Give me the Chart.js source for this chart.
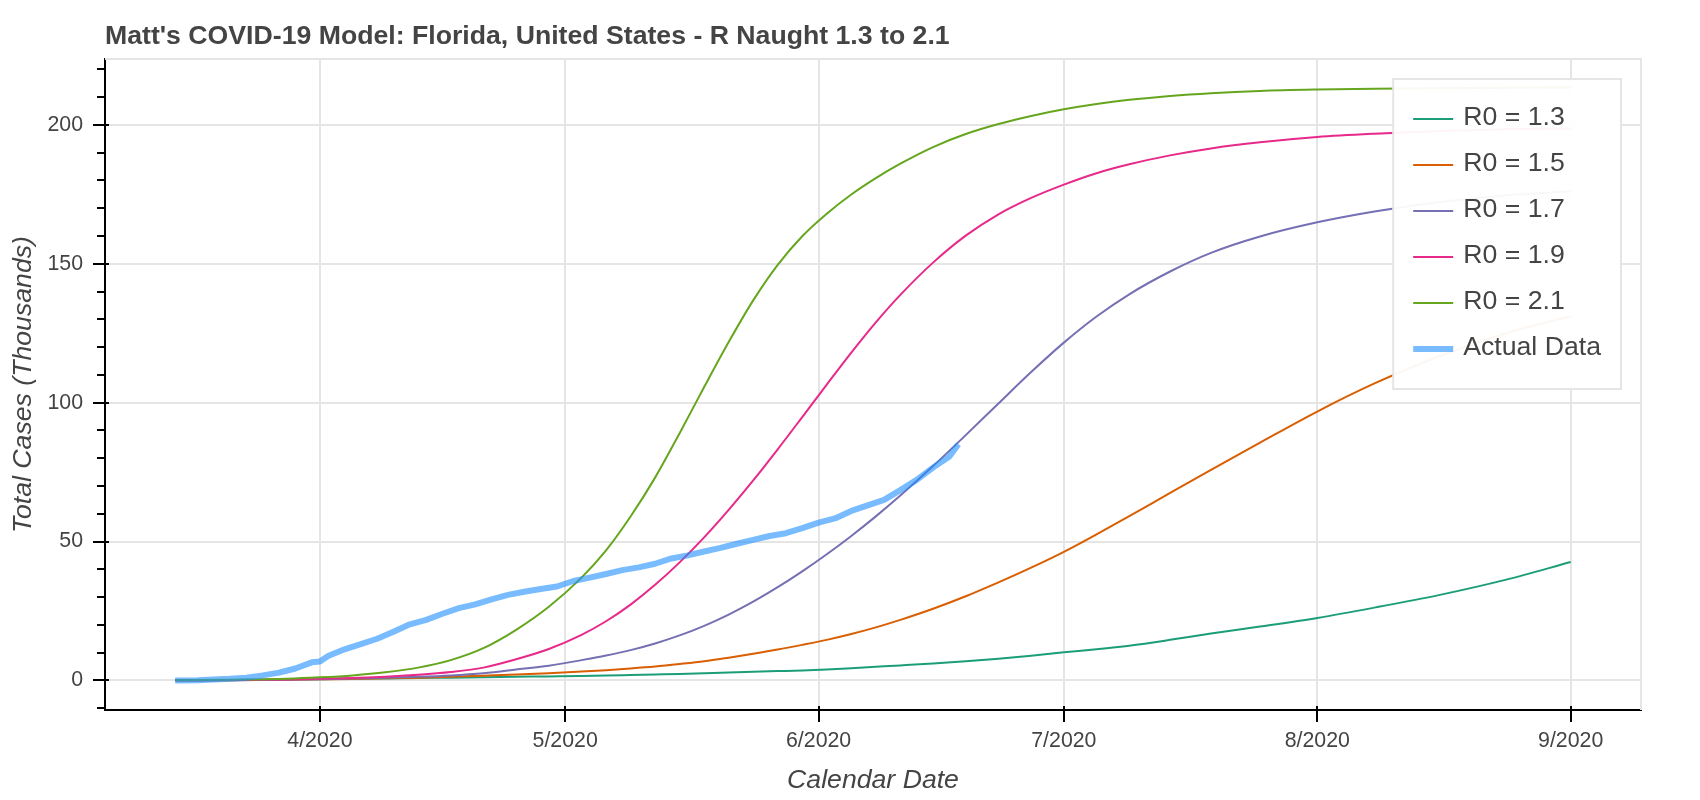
<!DOCTYPE html>
<html>
<head>
<meta charset="utf-8">
<title>Matt's COVID-19 Model: Florida</title>
<script src="https://cdn.jsdelivr.net/npm/chart.js@4.4.1/dist/chart.umd.min.js"></script>
<style>
  body { margin: 0; background: #fff; }
  canvas { display: block; }
</style>
</head>
<body>
<canvas id="covidChart" width="1700" height="800"></canvas>
<script>
// x values are days counted from 1 March 2020, y values are thousands of cases
const modelDays = [13.3, 20, 27, 31, 35, 39, 43, 47, 51, 55,
    59, 63, 66, 69, 72, 75, 78, 81, 84, 87,
    90, 93, 96, 99, 102, 106, 110, 114, 118, 122,
    126, 130, 135, 140, 146, 153, 160, 168, 176, 184];

const r0_13 = [0.05, 0.15, 0.3, 0.45, 0.55, 0.7, 0.85, 1.0, 1.15, 1.3,
    1.45, 1.6, 1.75, 1.95, 2.15, 2.35, 2.6, 2.85, 3.1, 3.35,
    3.6, 3.95, 4.4, 4.9, 5.4, 6.1, 6.9, 7.8, 8.9, 10.1,
    11.2, 12.5, 14.6, 16.9, 19.4, 22.5, 26.2, 30.8, 36.2, 42.6];

const r0_15 = [0.05, 0.1, 0.25, 0.4, 0.55, 0.75, 1.0, 1.3, 1.7, 2.1,
    2.6, 3.2, 3.7, 4.3, 5.0, 5.9, 6.9, 8.2, 9.6, 11.1,
    12.8, 14.6, 16.7, 19.1, 21.8, 25.8, 30.3, 35.3, 40.6, 46.3,
    52.6, 59.1, 67.5, 75.8, 85.6, 96.8, 106.9, 116.8, 124.9, 131.1];

const r0_17 = [0.05, 0.1, 0.3, 0.45, 0.7, 0.95, 1.3, 1.8, 2.6, 3.9,
    5.3, 7.3, 8.95, 10.9, 13.3, 16.2, 19.65, 23.7, 28.35, 33.55,
    39.25, 45.4, 52.0, 59.05, 66.55, 77.15, 88.3, 99.7, 111.0, 121.6,
    131.0, 139.0, 147.2, 153.9, 159.8, 164.9, 168.8, 172.2, 174.6, 176.0];

const r0_19 = [0.05, 0.15, 0.35, 0.6, 0.9, 1.3, 2.0, 3.0, 4.6, 7.6,
    11.3, 16.4, 21.3, 27.3, 34.4, 42.5, 51.5, 61.4, 72.0, 83.2,
    94.8, 106.5, 118.0, 128.9, 138.8, 150.4, 160.1, 167.8, 173.7, 178.5,
    182.6, 185.8, 189.0, 191.5, 193.7, 195.6, 196.8, 197.8, 198.4, 198.7];

const r0_21 = [0.05, 0.25, 0.6, 1.1, 1.8, 2.9, 4.6, 7.3, 11.6, 18.2,
    26.5, 37.0, 46.8, 59.0, 73.0, 89.0, 105.6, 121.8, 136.8, 149.6,
    159.9, 168.0, 174.9, 180.8, 186.0, 192.0, 196.7, 200.3, 203.2, 205.6,
    207.5, 209.0, 210.4, 211.4, 212.2, 212.7, 213.0, 213.2, 213.35, 213.45];

const actualDays = [13.3, 16, 20, 22, 24, 26, 28, 30, 31, 32,
    34, 36, 38, 40, 42, 44, 46, 48, 50, 52,
    54, 56, 58, 60, 62, 64, 66, 68, 70, 72,
    74, 76, 78, 80, 82, 84, 86, 88, 90, 92,
    94, 96, 98, 100, 102, 104, 106, 108, 109.1];

const actualCases = [0, 0.1, 0.6, 1.0, 1.8, 2.8, 4.3, 6.5, 6.8, 8.8,
    11.2, 13.1, 15.0, 17.5, 20.2, 21.8, 24.0, 26.0, 27.4, 29.2,
    30.8, 31.9, 32.9, 33.8, 35.8, 37.0, 38.3, 39.7, 40.7, 42.0,
    43.9, 45.0, 46.4, 47.7, 49.2, 50.6, 52.0, 53.0, 54.8, 56.8,
    58.3, 61.0, 63.0, 65.0, 68.5, 72.2, 76.6, 80.6, 85.0];

const seriesLabels = ['R0 = 1.3', 'R0 = 1.5', 'R0 = 1.7', 'R0 = 1.9', 'R0 = 2.1', 'Actual Data'];

// month starts (1 Apr ... 1 Sep) and their labels
const monthTickDays = [31, 61, 92, 122, 153, 184];
const monthTickLabels = ['4/2020', '5/2020', '6/2020', '7/2020', '8/2020', '9/2020'];
const yTickValues = [0, 50, 100, 150, 200];

const chartTitle = "Matt's COVID-19 Model: Florida, United States - R Naught 1.3 to 2.1";

// styling
const FONT = '"Liberation Sans", Arial, Helvetica, sans-serif';
const TEXT = '#444444';
const modelColors = ['#1b9e77', '#d95f02', '#7570b3', '#e7298a', '#66a61e'];
const actualColor = 'rgba(30, 144, 255, 0.6)';

const modelSeries = [r0_13, r0_15, r0_17, r0_19, r0_21];

const datasets = modelSeries.map((values, i) => ({
    label: seriesLabels[i],
    data: modelDays.map((d, j) => ({ x: d, y: values[j] })),
    borderColor: modelColors[i],
    borderWidth: 2,
    cubicInterpolationMode: 'monotone',
    order: 10 - i
}));

datasets.push({
    label: seriesLabels[5],
    data: actualDays.map((d, j) => ({ x: d, y: actualCases[j] })),
    borderColor: actualColor,
    borderWidth: 6,
    tension: 0,
    borderJoinStyle: 'bevel',
    order: 0
});

// frame outline, minor ticks, title and the boxed legend inside the plot
const bokehLook = {
    id: 'bokehLook',
    beforeDatasetsDraw(chart) {
        const { ctx, chartArea: a } = chart;
        ctx.save();
        ctx.strokeStyle = '#e5e5e5';
        ctx.lineWidth = 2;
        ctx.beginPath();
        ctx.moveTo(a.left, a.top);
        ctx.lineTo(a.right, a.top);
        ctx.lineTo(a.right, a.bottom);
        ctx.stroke();
        ctx.restore();
    },
    afterDraw(chart) {
        const { ctx, chartArea: a, scales } = chart;
        const yS = scales.y, xS = scales.x;
        ctx.save();

        // tick marks: minor y ticks every 10, short inner part of major ticks
        ctx.strokeStyle = '#000';
        ctx.lineWidth = 2;
        ctx.beginPath();
        for (let v = -10; v <= 220; v += 10) {
            if (v < yS.min || v > yS.max) continue;
            const py = Math.round(yS.getPixelForValue(v));
            if (v % 50 === 0) {
                ctx.moveTo(a.left, py); ctx.lineTo(a.left + 4, py);
            } else {
                ctx.moveTo(a.left - 8, py); ctx.lineTo(a.left, py);
            }
        }
        monthTickDays.forEach(d => {
            const px = Math.round(xS.getPixelForValue(d));
            ctx.moveTo(px, a.bottom); ctx.lineTo(px, a.bottom - 4);
        });
        ctx.stroke();

        // title
        ctx.fillStyle = TEXT;
        ctx.font = 'bold 26.67px ' + FONT;
        ctx.textAlign = 'left';
        ctx.textBaseline = 'alphabetic';
        ctx.fillText(chartTitle, a.left, 43.5);

        // legend
        ctx.font = '26.67px ' + FONT;
        const pad = 20, glyphW = 40, rowH = 40, gap = 6, standoff = 10;
        const labelW = Math.max(...chart.data.datasets.map(ds => ctx.measureText(ds.label).width));
        const boxW = pad + glyphW + standoff + labelW + pad;
        const n = chart.data.datasets.length;
        const boxH = pad * 2 + rowH * n + gap * (n - 1);
        const bx = a.right - 20 - boxW;
        const by = a.top + 20;
        ctx.fillStyle = 'rgba(255, 255, 255, 0.95)';
        ctx.fillRect(bx, by, boxW, boxH);
        ctx.strokeStyle = '#e5e5e5';
        ctx.lineWidth = 2;
        ctx.strokeRect(bx, by, boxW, boxH);

        chart.data.datasets.forEach((ds, i) => {
            const cy = by + pad + rowH / 2 + i * (rowH + gap);
            ctx.strokeStyle = ds.borderColor;
            ctx.lineWidth = ds.borderWidth;
            ctx.beginPath();
            ctx.moveTo(bx + pad, cy);
            ctx.lineTo(bx + pad + glyphW, cy);
            ctx.stroke();
            ctx.fillStyle = TEXT;
            ctx.textBaseline = 'middle';
            ctx.fillText(ds.label, bx + pad + glyphW + standoff, cy - 1);
        });
        ctx.restore();
    }
};

const ctx = document.getElementById('covidChart').getContext('2d');
new Chart(ctx, {
    type: 'line',
    data: { datasets: datasets },
    options: {
        responsive: false,
        animation: false,
        devicePixelRatio: 1,
        layout: { padding: { top: 59, right: 59, left: 0, bottom: 0 } },
        elements: { point: { radius: 0, hoverRadius: 0 } },
        plugins: {
            legend: { display: false },
            tooltip: { enabled: false },
            title: { display: false }
        },
        scales: {
            x: {
                type: 'linear',
                min: 4.71,
                max: 192.6,
                afterBuildTicks: scale => {
                    scale.ticks = monthTickDays.map(d => ({ value: d }));
                },
                afterFit: scale => { scale.height = 90; },
                ticks: {
                    autoSkip: false,
                    maxRotation: 0,
                    padding: 6,
                    color: TEXT,
                    font: { family: FONT, size: 21.33 },
                    callback: value => monthTickLabels[monthTickDays.indexOf(value)]
                },
                grid: {
                    color: '#e5e5e5',
                    lineWidth: 2,
                    drawTicks: true,
                    tickLength: 12,
                    tickColor: '#000',
                    tickWidth: 2
                },
                border: { color: '#000', width: 2 },
                title: {
                    display: true,
                    text: 'Calendar Date',
                    color: TEXT,
                    font: { family: FONT, size: 26.67, style: 'italic' },
                    padding: { top: 0, bottom: 3 }
                }
            },
            y: {
                type: 'linear',
                min: -10.65,
                max: 223.7,
                afterBuildTicks: scale => {
                    scale.ticks = yTickValues.map(v => ({ value: v }));
                },
                afterFit: scale => { scale.width = 105; },
                ticks: {
                    padding: 10,
                    color: TEXT,
                    font: { family: FONT, size: 21.33 }
                },
                grid: {
                    color: '#e5e5e5',
                    lineWidth: 2,
                    drawTicks: true,
                    tickLength: 12,
                    tickColor: '#000',
                    tickWidth: 2
                },
                border: { color: '#000', width: 2 },
                title: {
                    display: true,
                    text: 'Total Cases (Thousands)',
                    color: TEXT,
                    font: { family: FONT, size: 26.67, style: 'italic' },
                    padding: { top: 8, bottom: 0 }
                }
            }
        }
    },
    plugins: [bokehLook]
});
</script>
</body>
</html>
